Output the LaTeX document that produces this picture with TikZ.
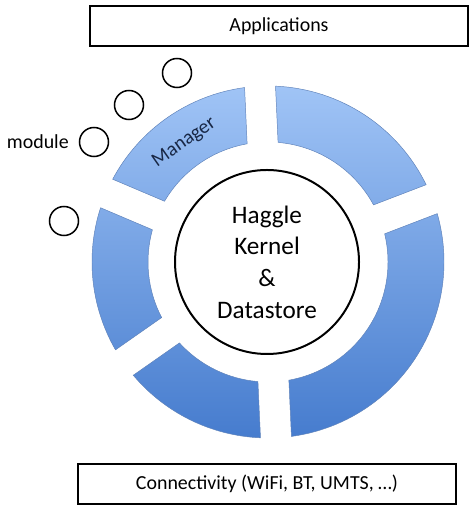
\documentclass[tikz,border=0pt]{standalone}
\usepackage{fontspec}
\setmainfont{Carlito}
\usetikzlibrary{positioning}
\definecolor{ringtop}{RGB}{160,196,246}
\definecolor{ringmid}{RGB}{125,166,230}
\definecolor{ringbot}{RGB}{70,124,206}
\definecolor{ringedge}{RGB}{95,130,185}
\definecolor{mgrtext}{RGB}{25,40,70}
% one piece of the manager ring, between two gap angles
\newcommand{\ringseg}[2]{(#1+5.05:176) arc[start angle=#1+5.05, end angle=#2-5.05, radius=176]
  -- (#2-7.42:120) arc[start angle=#2-7.42, end angle=#1+7.42, radius=120] -- cycle}
\begin{document}
\begin{tikzpicture}[x=0.03cm,y=0.03cm,
    layerbox/.style={draw,line width=1.7pt,minimum width=11.34cm,minimum height=1.18cm,
      inner sep=0pt,font=\fontsize{17}{20}\selectfont},
    modcircle/.style={draw,circle,line width=1.3pt,minimum size=0.87cm,inner sep=0pt}]
    \useasboundingbox (0,0) rectangle (474,512);

    % Layers
    \node[layerbox] (apps) at (279,486) {Applications};
    \node[layerbox] (conn) at (267,28) {Connectivity (WiFi, BT, UMTS, …)};

    % Manager ring
    \begin{scope}[shift={(268,250)}]
      \shadedraw[top color=ringtop,middle color=ringmid,bottom color=ringbot,
        draw=ringedge,line width=0.4pt]
        \ringseg{21}{92.6} \ringseg{92.6}{157} \ringseg{157}{215}
        \ringseg{215}{272.6} \ringseg{-87.4}{21};
      \node[rotate=35,text=mgrtext,font=\fontsize{17}{20}\selectfont] (mgr) at (125:146) {Manager};
    \end{scope}

    % Kernel
    \node[draw,circle,line width=1.7pt,minimum size=5.52cm,align=center,
      font=\fontsize{21.5}{27}\selectfont] (kernel) at (267,250) {Haggle\\Kernel\\\&\\Datastore};

    % Modules
    \node[modcircle] (m1) at (177,439) {};
    \node[modcircle] (m2) at (129,407) {};
    \node[modcircle] (m3) at (94,370) {};
    \node[modcircle] (m4) at (64,291) {};
    \node[left=5pt of m3,font=\fontsize{17}{20}\selectfont] (modlabel) {module};

  \end{tikzpicture}
\end{document}
